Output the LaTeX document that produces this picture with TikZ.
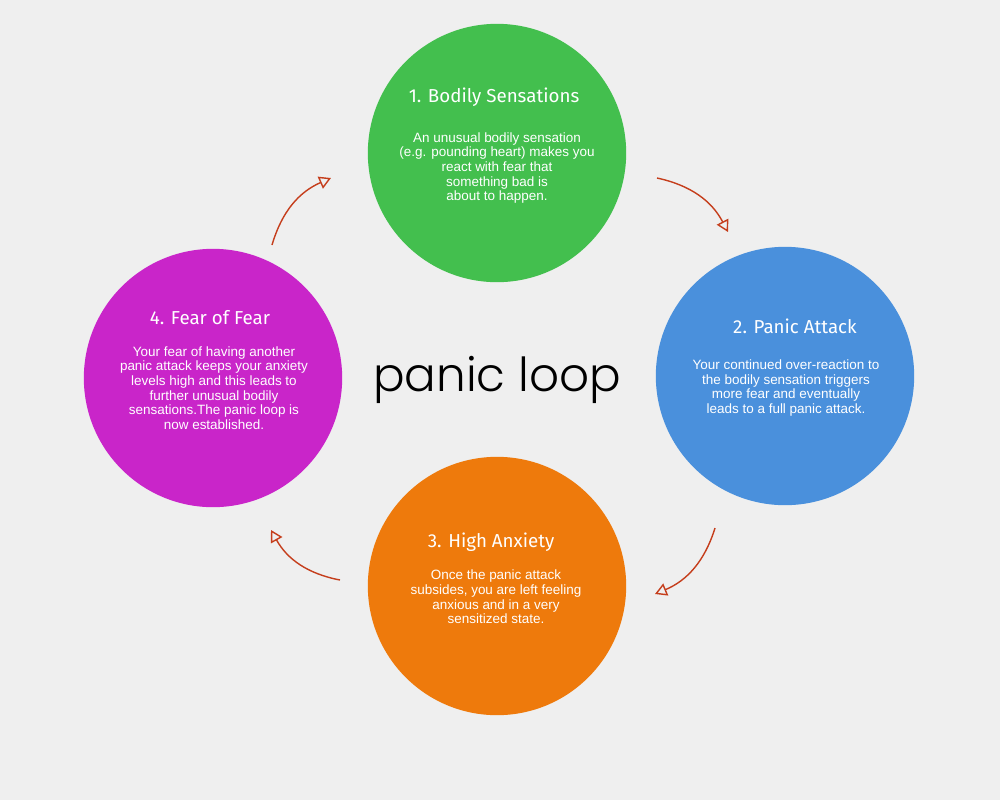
\documentclass[tikz,border=0pt]{standalone}
\usepackage{fontspec}
\setmainfont{Liberation Sans}
\newfontfamily\ttlfont{Fira Sans}
\newfontfamily\loopfont{Poppins Light}
\usetikzlibrary{arrows.meta}
\definecolor{bg}{HTML}{EFEFEF}
\definecolor{cg}{HTML}{43BF4E}
\definecolor{cb}{HTML}{4A90DC}
\definecolor{co}{HTML}{EE7A0C}
\definecolor{cm}{HTML}{C925C9}
\definecolor{arr}{HTML}{C53E1C}
\tikzset{
 circ/.style={circle,minimum size=7.75cm,inner sep=0pt},
 ttlst/.style={text=white,font=\ttlfont\fontsize{16}{18}\selectfont},
 body/.style={text=white,align=center,font=\fontsize{11.5}{12.5}\selectfont},
 cyc/.style={draw=arr,line width=1.2pt,-{Triangle[open,length=10pt,width=11pt,line width=1.2pt]}}
}
\begin{document}
\begin{tikzpicture}[x=0.03cm,y=-0.03cm]
\fill[bg] (0,0) rectangle (1000,800);
\node[circ,fill=cg] (c1) at (497,153) {};
\node[circ,fill=cb] (c2) at (785,376) {};
\node[circ,fill=co] (c3) at (497,586) {};
\node[circ,fill=cm] (c4) at (213,378) {};
\node[ttlst] (t1) at (494,97) {1. Bodily Sensations};
\node[body] (b1) at (497,168) {An unusual bodily sensation\\(e.g. pounding heart) makes you\\react with fear that\\something bad is\\about to happen.};
\node[ttlst] (t2) at (795,326) {2. Panic Attack};
\node[body] (b2) at (786,388) {Your continued over-reaction to\\the bodily sensation triggers\\more fear and eventually\\leads to a full panic attack.};
\node[ttlst] (t3) at (491,542) {3. High Anxiety};
\node[body] (b3) at (496,597) {Once the panic attack\\subsides, you are left feeling\\anxious and in a very\\sensitized state.};
\node[ttlst] (t4) at (210,318) {4. Fear of Fear};
\node[body] (b4) at (214,388) {Your fear of having another\\panic attack keeps your anxiety\\levels high and this leads to\\further unusual bodily\\sensations.The panic loop is\\now established.};
\node[font=\loopfont\fontsize{40}{44}\selectfont] (pl) at (497,380) {panic loop};
\coordinate (a1s) at (657,178); \coordinate (a1e) at (728,232);
\coordinate (a2s) at (715,528); \coordinate (a2e) at (655,594);
\coordinate (a3s) at (340,580); \coordinate (a3e) at (271,530);
\coordinate (a4s) at (272,245); \coordinate (a4e) at (331,178);
\draw[cyc] (a1s) to[bend left=25] (a1e);
\draw[cyc] (a2s) to[bend left=25] (a2e);
\draw[cyc] (a3s) to[bend left=25] (a3e);
\draw[cyc] (a4s) to[bend left=25] (a4e);
\end{tikzpicture}
\end{document}
